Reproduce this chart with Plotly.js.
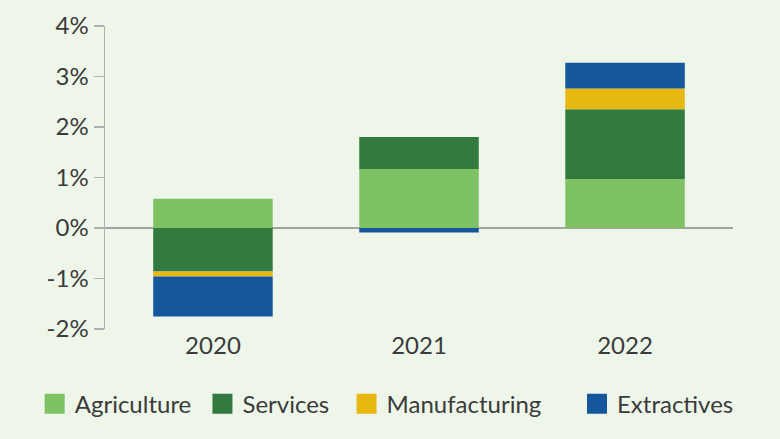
<!DOCTYPE html>
<html>
<head>
<meta charset="utf-8">
<script src="https://cdn.plot.ly/plotly-3.0.1.min.js"></script>
<style>html,body{margin:0;padding:0;background:#eef6ea;}#chart{width:780px;height:439px;}</style>
</head>
<body>
<div id="chart"></div>
<script>
const years = ['2020', '2021', '2022'];
const agriculture = [0.58, 1.17, 0.97];
const services = [-0.86, 0.63, 1.38];
const manufacturing = [-0.10, 0, 0.41];
const extractives = [-0.79, -0.09, 0.51];
const yTicks = [-2, -1, 0, 1, 2, 3, 4];
const yTickLabels = ['-2%', '-1%', '0%', '1%', '2%', '3%', '4%'];
const seriesNames = ['Agriculture', 'Services', 'Manufacturing', 'Extractives'];
const seriesColors = ['#7fc266', '#337a40', '#e7b712', '#14579c'];
const legendPad = [1, 2, 5, 0];

const seriesValues = [agriculture, services, manufacturing, extractives];

const traces = [];
seriesNames.forEach((name, i) => {
  traces.push({
    type: 'bar', x: years, y: seriesValues[i], name: name,
    marker: {color: seriesColors[i], line: {width: 0}},
    showlegend: false, hoverinfo: 'x+y+name'
  });
});
seriesNames.forEach((name, i) => {
  traces.push({
    type: 'scatter', mode: 'markers', x: [null], y: [null],
    name: name + '&nbsp;'.repeat(legendPad[i]),
    marker: {symbol: 'square', size: 16, color: seriesColors[i], line: {color: seriesColors[i], width: 4}},
    showlegend: true, hoverinfo: 'skip'
  });
});

const font = {family: 'Lato, "Open Sans", sans-serif', size: 24, color: '#3b3b3b'};

const layout = {
  width: 780, height: 439,
  margin: {l: 105, r: 47, t: 26, b: 106},
  paper_bgcolor: '#eef6ea', plot_bgcolor: '#eef6ea',
  barmode: 'relative', bargap: 0.42,
  font: font,
  showlegend: true,
  legend: {orientation: 'h', x: -0.112, xanchor: 'left', y: -0.248, yanchor: 'middle',
           font: font, bgcolor: 'rgba(0,0,0,0)', traceorder: 'normal'},
  xaxis: {type: 'category', range: [-0.524, 2.524], showgrid: false, zeroline: false,
          showline: false, ticks: '', tickfont: font, fixedrange: true},
  yaxis: {range: [-2, 4], tickvals: yTicks, ticktext: yTickLabels, showgrid: false,
          zeroline: true, zerolinecolor: '#a3a3a3', zerolinewidth: 1.5,
          showline: true, linecolor: '#b0b0b0', linewidth: 1.5,
          ticks: 'outside', ticklen: 10, tickcolor: '#b0b0b0', tickwidth: 1.5,
          tickfont: font, fixedrange: true}
};

Plotly.newPlot('chart', traces, layout, {displayModeBar: false, staticPlot: true});
</script>
</body>
</html>
